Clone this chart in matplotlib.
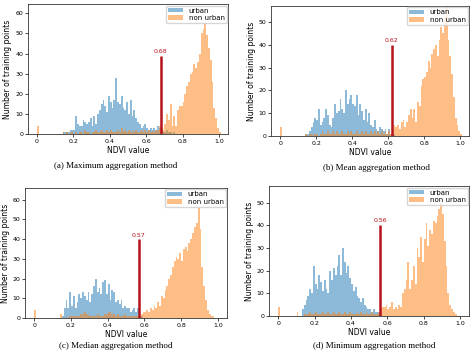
import numpy as np
import matplotlib
matplotlib.use("Agg")
import matplotlib.pyplot as plt

BIN = 0.01

# urban counts per 0.01 bin, starting at the given NDVI value
urban_a_start = 0.14
urban_a = [1, 1, 1, 1, 2, 2, 2, 9, 5, 4, 4, 7, 6, 5, 6, 8, 4, 9, 5, 10,
           12, 15, 17, 14, 11, 19, 16, 13, 17, 28, 16, 15, 19, 13, 12, 16, 10, 17, 9, 12,
           8, 6, 5, 3, 4, 5, 3, 2, 3, 2, 3, 2, 4, 3, 2, 1, 1, 2, 1, 1, 0, 1]
urban_b_start = 0.14
urban_b = [1, 1, 2, 4, 6, 8, 7, 12, 5, 6, 8, 12, 9, 5, 4, 8, 14, 10, 11, 16,
           12, 10, 20, 14, 16, 18, 14, 13, 18, 9, 14, 11, 7, 12, 6, 10, 5, 4, 7, 3,
           2, 4, 3, 2, 3, 1, 3, 1, 1, 1]
urban_c_start = 0.15
urban_c = [1, 5, 9, 5, 13, 6, 11, 5, 8, 12, 10, 13, 11, 9, 13, 8, 12, 16, 20, 13,
           15, 12, 18, 19, 12, 17, 9, 14, 13, 8, 9, 7, 9, 5, 6, 5, 5, 3, 4, 5,
           3, 5, 1, 1]
urban_d_start = 0.13
urban_d = [3, 5, 7, 9, 12, 10, 22, 14, 12, 18, 15, 11, 16, 12, 10, 20, 16, 21, 18, 22,
           27, 18, 30, 24, 19, 22, 17, 14, 11, 13, 9, 8, 6, 8, 5, 4, 3, 3, 2, 3,
           2, 2, 2, 1]

# non urban counts per 0.01 bin, starting at NDVI 0
non_urban_a = [4] + [0] * 13 + [
    1, 0, 1, 0, 1, 1, 0, 1, 0, 1, 1, 0, 2, 1, 1, 0, 1, 1, 2, 1,
    1, 2, 1, 1, 2, 1, 2, 1, 1, 1, 2, 1, 3, 1, 2, 1, 2, 1, 2, 1,
    2, 1, 1, 2, 1, 2, 1, 2, 1, 2, 1, 2, 2, 4, 3, 2, 5, 10, 7, 15,
    4, 9, 4, 12, 14, 14, 16, 20, 24, 26, 30, 31, 35, 33, 36, 40, 50, 52, 55, 49,
    43, 37, 26, 13, 8, 3, 1]
non_urban_b = [4] + [0] * 13 + [
    1, 0, 1, 1, 0, 1, 1, 0, 1, 2, 1, 1, 2, 1, 1, 2, 1, 2, 1, 1,
    2, 1, 1, 2, 1, 2, 1, 1, 2, 1, 1, 2, 1, 2, 1, 1, 2, 1, 2, 1,
    2, 1, 2, 1, 2, 1, 2, 1, 3, 5, 4, 5, 3, 6, 7, 4, 6, 9, 12, 8,
    12, 6, 15, 13, 22, 25, 26, 28, 33, 30, 36, 38, 40, 35, 42, 48, 45, 52, 57, 42,
    35, 27, 17, 8, 5, 2, 1]
non_urban_c = [4] + [0] * 13 + [
    2, 0, 0, 1, 0, 1, 1, 1, 1, 1, 1, 2, 2, 3, 2, 2, 1, 1, 1, 1,
    2, 1, 1, 1, 2, 2, 3, 3, 2, 2, 1, 2, 1, 1, 1, 2, 1, 1, 1, 1,
    1, 1, 1, 1, 2, 3, 3, 4, 3, 5, 4, 6, 5, 8, 6, 11, 10, 14, 16, 20,
    22, 26, 29, 31, 30, 33, 29, 35, 36, 34, 38, 40, 43, 46, 48, 56, 45, 26, 16, 9,
    4, 2, 1, 1]
non_urban_d = [4] + [0] * 9 + [2, 0, 0, 0] + [
    1, 1, 1, 2, 1, 1, 2, 1, 1, 1, 2, 1, 1, 2, 1, 1, 2, 1, 1, 2,
    1, 1, 2, 1, 1, 2, 1, 1, 1, 2, 1, 2, 1, 1, 2, 1, 1, 2, 1, 1,
    1, 2, 3, 4, 4, 5, 3, 4, 6, 3, 4, 3, 5, 4, 10, 12, 16, 24, 12, 16,
    22, 14, 30, 26, 35, 24, 34, 41, 31, 38, 36, 42, 41, 44, 47, 50, 45, 33, 22, 10,
    5, 3, 2, 1]

thresholds = [0.68, 0.62, 0.57, 0.56]
line_tops = [39, 40, 40, 40]
y_maxes = [64.5, 57, 66, 57.2]
y_ticks = [np.arange(0, 61, 10), np.arange(0, 51, 10), np.arange(0, 61, 10), np.arange(0, 51, 10)]
captions = ["(a) Maximum aggregation method", "(b) Mean aggregation method",
            "(c) Median aggregation method", "(d) Minimum aggregation method"]
x_ticks = [0, 0.2, 0.4, 0.6, 0.8, 1.0]
x_tick_labels = ["0", "0.2", "0.4", "0.6", "0.8", "1.0"]

urban_sets = [(urban_a_start, urban_a), (urban_b_start, urban_b),
              (urban_c_start, urban_c), (urban_d_start, urban_d)]
non_urban_sets = [non_urban_a, non_urban_b, non_urban_c, non_urban_d]

axes_pos = [[0.059, 0.621, 0.422, 0.367],
            [0.572, 0.616, 0.418, 0.367],
            [0.053, 0.102, 0.426, 0.367],
            [0.568, 0.107, 0.422, 0.367]]
# caption centres, in figure fractions
caption_pos = [(0.243, 0.531), (0.795, 0.525), (0.245, 0.022), (0.790, 0.022)]


def draw_hist(ax, start, counts, color, label):
    counts = np.array(counts, dtype=float)
    edges = start + BIN * np.arange(len(counts) + 1)
    centers = edges[:-1] + BIN / 2
    ax.hist(centers, bins=edges, weights=counts, color=color, alpha=0.5, label=label)


fig = plt.figure(figsize=(4.74, 3.54), dpi=100)

for i in range(4):
    ax = fig.add_axes(axes_pos[i])
    u_start, u_counts = urban_sets[i]
    draw_hist(ax, u_start, u_counts, "tab:blue", "urban")
    draw_hist(ax, 0.0, non_urban_sets[i], "tab:orange", "non urban")

    thr = thresholds[i]
    ax.vlines(thr, 0, line_tops[i], color="#b5121b", linewidth=1.8)
    ax.text(thr, line_tops[i] + 0.8, f"{thr:.2f}", color="#b5121b",
            fontsize=4.5, ha="center", va="bottom")

    ax.set_xlim(-0.05, 1.05)
    ax.set_ylim(0, y_maxes[i])
    ax.set_xticks(x_ticks)
    ax.set_xticklabels(x_tick_labels)
    ax.set_yticks(y_ticks[i])
    ax.tick_params(labelsize=4.5, length=2, width=0.5, pad=1.5)
    for spine in ax.spines.values():
        spine.set_linewidth(0.6)
        spine.set_color("#333333")
    ax.set_xlabel("NDVI value", fontsize=5.5, labelpad=1.5)
    ax.set_ylabel("Number of training points", fontsize=5.5, labelpad=2)
    ax.legend(loc="upper right", fontsize=5, frameon=True, borderpad=0.3,
              handlelength=2.2, handleheight=0.6, labelspacing=0.2,
              borderaxespad=0.2, framealpha=0.8)

    fig.text(caption_pos[i][0], caption_pos[i][1], captions[i],
             fontsize=6.5, family="Liberation Serif", ha="center", va="center")

fig.savefig("out.png", dpi=100)
